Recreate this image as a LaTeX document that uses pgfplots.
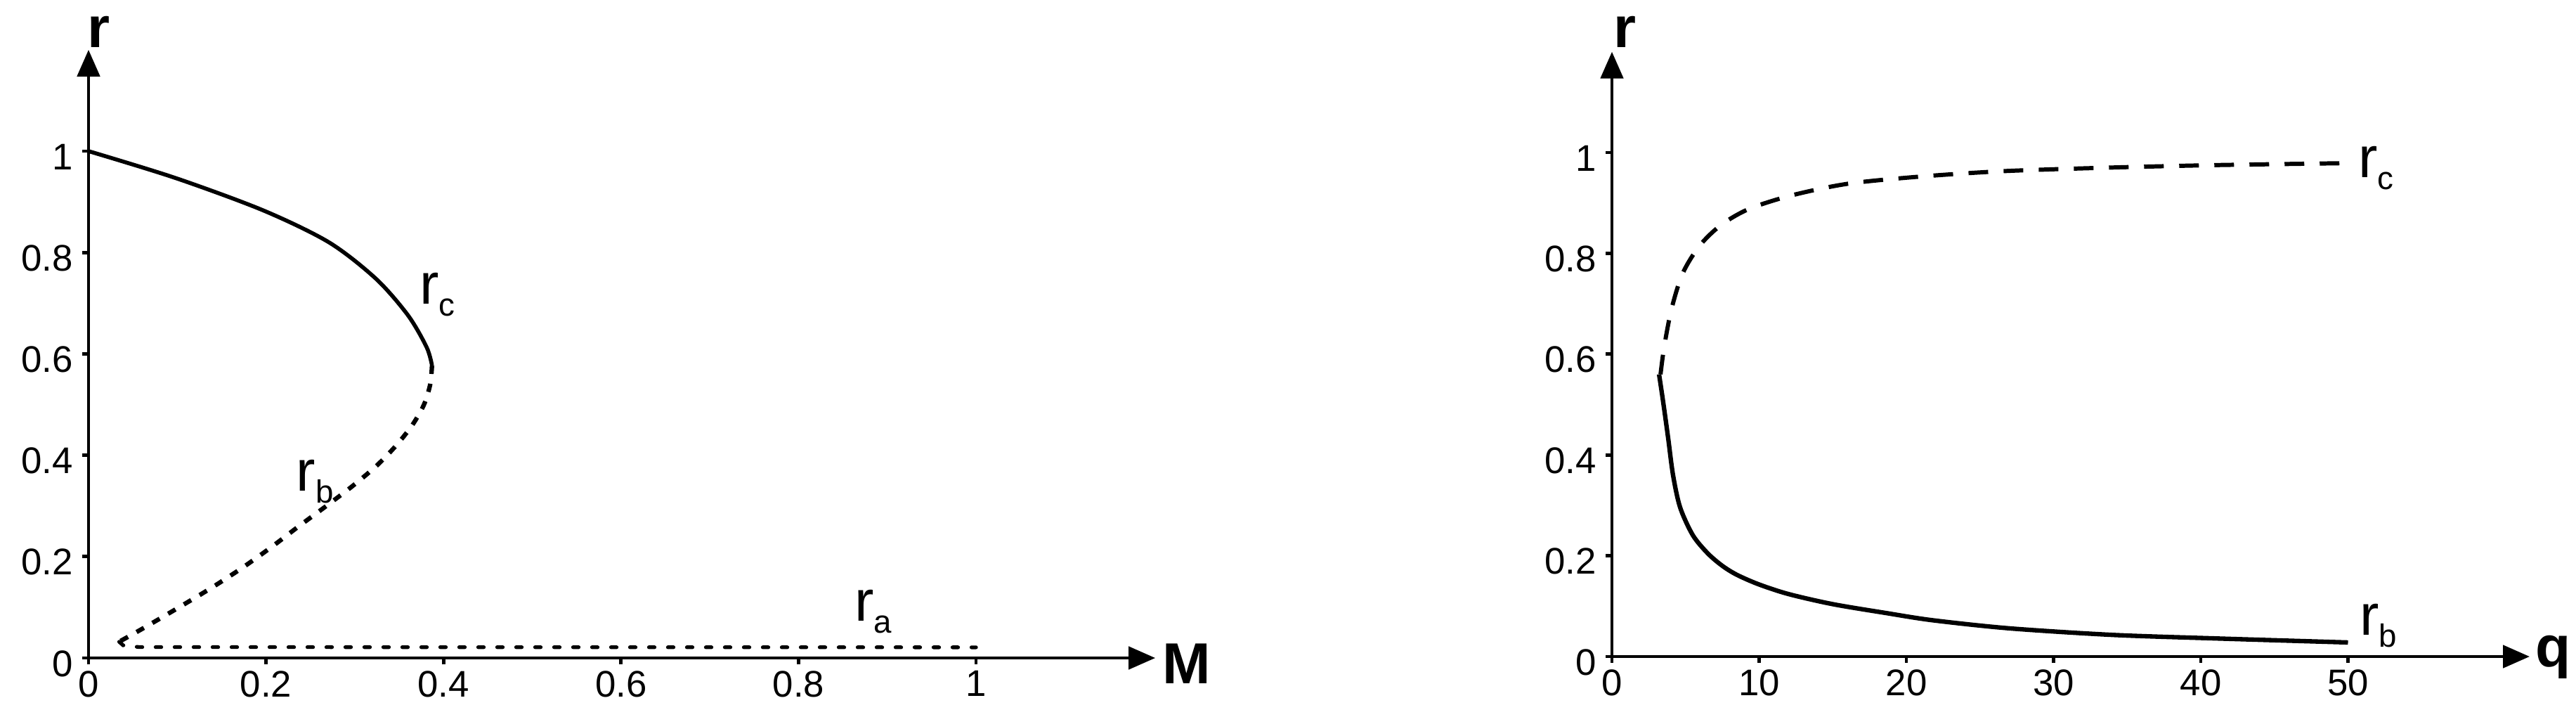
\documentclass[border=0pt]{standalone}
\usepackage{pgfplots}
\pgfplotsset{compat=1.18}
\usetikzlibrary{arrows.meta}
\usepackage{fontspec}
\setmainfont{Liberation Sans}

% curve label: r with a small subscript
\newcommand{\lab}[2]{{\fontsize{11.7}{14}\selectfont #1}\raisebox{-0.85mm}{\fontsize{6.5}{8}\selectfont #2}}

\pgfplotsset{
  sketch/.style={
    axis lines=left,
    axis line style={line width=0.7pt, -{Triangle[length=1.9mm,width=1.6mm]}},
    tick align=outside,
    major tick length=0.45mm,
    tick style={line width=0.7pt, black},
    ymin=0, ymax=1.2,
    ytick={0,0.2,0.4,0.6,0.8,1},
    yticklabels={0,0.2,0.4,0.6,0.8,1},
    ticklabel style={font=\fontsize{7.5}{9}\selectfont, inner sep=0pt},
    xticklabel shift=0.4mm,
    yticklabel shift=0.6mm,
    yticklabel style={yshift=-0.4mm},
    /pgf/number format/assume math mode=true,
    clip=false,
    anchor=south west,
  },
}
\tikzset{
  axlab/.style={anchor=base west, inner sep=0pt, font=\bfseries\fontsize{11.7}{14}\selectfont},
  curvelab/.style={anchor=base west, inner sep=0pt},
}

\begin{document}
\begin{tikzpicture}
\path[use as bounding box] (0,0) rectangle (183.3mm,50.95mm);

% ---- left: r against M
\begin{axis}[sketch,
    at={(6.3mm,4.15mm)}, x=63.15mm, y=36.05mm,
    xmin=0, xmax=1.202,
    xtick={0,0.2,0.4,0.6,0.8,1},
    xticklabels={0,0.2,0.4,0.6,0.8,1}]

% r_c (stable, solid)
\addplot[line width=0.8pt, smooth, tension=0.5] coordinates {
    (0,1) (0.098,0.947) (0.197,0.883) (0.271,0.820) (0.324,0.748)
    (0.360,0.676) (0.381,0.613) (0.387,0.577)
};

% r_b (unstable, short dashes)
\addplot[line width=0.9pt, smooth, tension=0.5, dash pattern=on 0.6mm off 0.7mm] coordinates {
    (0.387,0.577) (0.385,0.54) (0.378,0.50) (0.365,0.46) (0.347,0.42)
    (0.325,0.38) (0.298,0.34) (0.268,0.30) (0.237,0.26) (0.207,0.22)
    (0.175,0.18) (0.140,0.14) (0.102,0.10) (0.063,0.06) (0.0345,0.032)
};

% r_a (dashed, near zero)
\addplot[line width=0.75pt, line cap=round, dash pattern=on 0.4mm off 0.95mm] coordinates {
    (0.0345,0.032) (0.039,0.025) (0.057,0.0215) (1.0,0.021)
};

\node[axlab] at (axis cs:-0.002,1.204) {r};
\node[axlab] at (axis cs:1.209,-0.05) {M};
\node[curvelab] at (axis cs:0.372,0.699) {\lab{r}{c}};
\node[curvelab] at (axis cs:0.233,0.330) {\lab{r}{b}};
\node[curvelab] at (axis cs:0.862,0.0735) {\lab{r}{a}};
\end{axis}

% ---- right: r against q
\begin{axis}[sketch,
    at={(114.7mm,4.25mm)}, x=1.0475mm, y=35.85mm,
    xmin=0, xmax=62.34,
    xtick={0,10,20,30,40,50},
    xticklabels={0,10,20,30,40,50}]

% r_c (dashed)
\addplot[line width=0.85pt, smooth, tension=0.5, dash pattern=on 1.4mm off 1.1mm] coordinates {
    (3.3,0.56) (3.55,0.615) (4.05,0.69) (4.8,0.76) (5.95,0.815) (7.4,0.856)
    (9.3,0.888) (12.2,0.915) (16,0.938) (20.8,0.952) (26.5,0.963)
    (33.6,0.970) (40.8,0.975) (50,0.979)
};

% r_b (solid)
\addplot[line width=0.9pt, smooth, tension=0.5] coordinates {
    (3.2,0.56) (3.48,0.505) (3.82,0.433) (4.15,0.36) (4.63,0.296)
    (5.49,0.241) (6.5,0.205) (7.5,0.18) (8.5,0.162) (10,0.143)
    (12,0.124) (15,0.104) (18.7,0.086) (21.8,0.072) (27,0.056)
    (34,0.043) (41,0.036) (50,0.028)
};

\node[axlab] at (axis cs:0.05,1.208) {r};
\node[axlab] at (axis cs:62.67,-0.02) {q};
\node[curvelab] at (axis cs:50.65,0.951) {\lab{r}{c}};
\node[curvelab] at (axis cs:50.74,0.043) {\lab{r}{b}};
\end{axis}
\end{tikzpicture}
\end{document}
